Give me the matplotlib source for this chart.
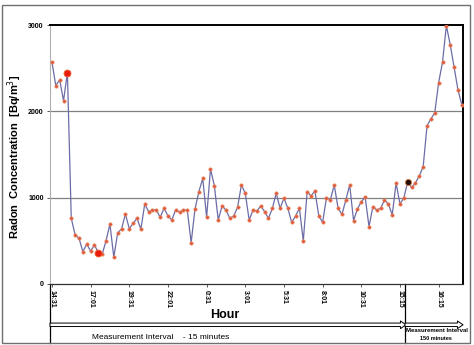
import matplotlib.pyplot as plt
from matplotlib.patches import Rectangle

plt.rcParams['font.family'] = ['Liberation Sans', 'DejaVu Sans']

# radon readings, one per interval (15 min, then 150 min after 15:15)
radon = [
    2572, 2298, 2364, 2124, 2448, 761, 568, 530, 374, 463,
    382, 452, 363, 344, 502, 695, 309, 594, 637, 811,
    641, 703, 761, 634, 927, 838, 857, 857, 773, 877,
    788, 742, 857, 831, 857, 857, 479, 869, 1070, 1224,
    773, 1333, 1139, 742, 904, 857, 761, 788, 888, 1147,
    1051, 742, 857, 846, 904, 838, 761, 877, 1051, 877,
    993, 877, 715, 788, 877, 498, 1070, 1020, 1078, 792,
    715, 1001, 973, 1147, 877, 807, 973, 1147, 734, 869,
    954, 1004, 665, 896, 857, 877, 973, 927, 800, 1170,
    927, 997, 1182, 1120, 1170, 1253, 1359, 1834, 1912, 1985,
    2333, 2569, 2993, 2769, 2511, 2248, 2074,
]
tick_idx = [0, 10, 20, 30, 40, 50, 60, 70, 80, 90, 100]
tick_labels = ["14:31", "17:01", "19:31", "22:01", "0:31", "3:01",
               "5:31", "8:01", "10:31", "15:15", "16:15"]
y_ticks = [0, 1000, 2000, 3000]
big_red = [4, 12]
big_dark = [92]
split_idx = 91.3

W, H = 474, 345


def fx(px):
    return px / W


def fy(py):
    return 1 - py / H


fig = plt.figure(figsize=(W / 100, H / 100), dpi=100)
ax = fig.add_axes([fx(50), fy(284), (463 - 50) / W, (284 - 25) / H])

x = list(range(len(radon)))
ax.plot(x, radon, color="#6c6ca8", lw=0.9, zorder=3)
ax.plot(x, radon, ls="none", marker="o", ms=2.4, mfc="#e05440",
        mec="#e8885a", mew=0.5, zorder=4)
ax.plot(big_red, [radon[i] for i in big_red], ls="none", marker="o",
        ms=5, mfc="#e81c0c", mec="#f06030", mew=0.6, zorder=5)
ax.plot(big_dark, [radon[i] for i in big_dark], ls="none", marker="o",
        ms=4.5, mfc="#201008", mec="#e08040", mew=0.6, zorder=5)

ax.set_xlim(-0.5, 106.3)
ax.set_ylim(0, 3000)
ax.set_yticks(y_ticks)
ax.set_yticklabels([str(v) for v in y_ticks], fontsize=5, fontweight="bold")
ax.set_xticks(tick_idx)
ax.set_xticklabels(tick_labels, rotation=270, fontsize=5, fontweight="bold",
                   va="top", ha="center")
ax.tick_params(axis="both", length=2.5, width=0.6, colors="#404040",
               labelcolor="black", pad=2)
for v in y_ticks[1:3]:
    ax.axhline(v, color="#808080", lw=0.9, zorder=1)

ax.spines["left"].set_color("#b0b0b0")
ax.spines["left"].set_linewidth(0.8)
ax.spines["bottom"].set_color("#303030")
ax.spines["bottom"].set_linewidth(0.9)
for s in ["top", "right"]:
    ax.spines[s].set_color("black")
    ax.spines[s].set_linewidth(1.4)

fig.text(fx(15), fy(157), "Radon  Concentration  [Bq/m$^3$]", rotation=90,
         ha="center", va="center", fontsize=8, fontweight="bold")
fig.text(fx(224.5), fy(315), "Hour", ha="center", va="center",
         fontsize=9, fontweight="bold")

# lower band: interval arrows and separators
xa = ax.get_xaxis_transform()
for xv in [-0.5, split_idx]:
    ax.plot([xv, xv], [0, -(343 - 284) / 259], transform=xa, color="black",
            lw=0.9, clip_on=False)

arrow = dict(arrowstyle="simple,head_length=0.4,head_width=0.55,tail_width=0.25",
             fc="white", ec="black", lw=0.7, mutation_scale=10,
             shrinkA=0, shrinkB=0)
ax.annotate("", xy=(fx(406), fy(324.8)), xytext=(fx(50), fy(324.8)),
            xycoords="figure fraction", arrowprops=arrow)
ax.annotate("", xy=(fx(463), fy(324.8)), xytext=(fx(405), fy(324.8)),
            xycoords="figure fraction", arrowprops=arrow)

fig.text(fx(161), fy(337.5), "Measurement Interval    - 15 minutes",
         ha="center", va="center", fontsize=6)
fig.text(fx(406), fy(331), "Measurement Interval", ha="left", va="center",
         fontsize=4.3, fontweight="bold")
fig.text(fx(436), fy(338.5), "150 minutes", ha="center", va="center",
         fontsize=4, fontweight="bold")

fig.patches.append(Rectangle((fx(2), fy(343)), (470 - 2) / W, (343 - 5) / H,
                             transform=fig.transFigure, fill=False,
                             ec="#707070", lw=1))

fig.savefig("out.png", dpi=100)
